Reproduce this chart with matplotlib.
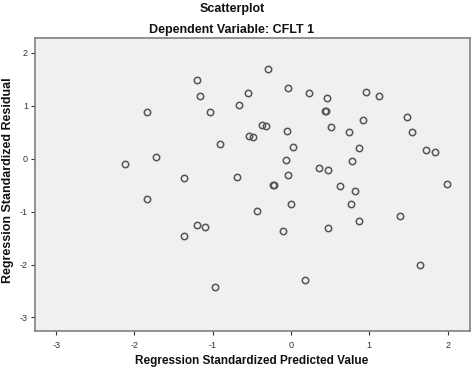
import matplotlib
matplotlib.use("Agg")
import matplotlib.pyplot as plt

# Regression standardized predicted value (x) and residual (y)
pred = [-1.835, -1.728, -2.124, -1.367, -0.290, -1.197, -1.158, -0.034, -0.553, 0.230,
        0.464, -0.664, -1.034, 0.433, 0.453, -0.370, -0.319, -0.047, -0.533, -0.489,
        -0.907, 0.026, -0.068, 0.361, 0.476, -0.686, -0.034, -0.236, -0.216, 0.962,
        1.120, 0.920, 1.485, 0.515, 0.741, 1.541, 0.872, 1.724, 1.839, 0.783,
        1.992, 0.626, -1.835, -1.367, 0.000, -0.438, -1.197, -1.102, -0.098, 0.476,
        0.179, -0.974, 0.814, 0.762, 1.392, 0.865, 1.648]
resid = [0.888, 0.032, -0.100, -0.371, 1.701, 1.482, 1.191, 1.336, 1.248, 1.242,
         1.153, 1.015, 0.877, 0.896, 0.896, 0.631, 0.618, 0.518, 0.423, 0.405,
         0.284, 0.221, -0.019, -0.170, -0.219, -0.340, -0.302, -0.497, -0.497, 1.255,
         1.191, 0.726, 0.788, 0.594, 0.510, 0.499, 0.197, 0.164, 0.121, -0.049,
         -0.478, -0.522, -0.756, -1.467, -0.862, -0.983, -1.248, -1.285, -1.372, -1.316,
         -2.293, -2.425, -0.611, -0.862, -1.083, -1.172, -2.004]

xticks = [-3, -2, -1, 0, 1, 2]
yticks = [-3, -2, -1, 0, 1, 2]

title1 = "Scatterplot"
title2 = "Dependent Variable: CFLT 1"
xlabel = "Regression Standardized Predicted Value"
ylabel = "Regression Standardized Residual"

plt.rcParams['font.family'] = ['Liberation Sans', 'DejaVu Sans']

fig = plt.figure(figsize=(4.74, 3.70), dpi=100)
fig.patch.set_facecolor('white')
ax = fig.add_axes([35/474, 1 - 331/370, (470 - 35)/474, (331 - 38)/370])
ax.set_facecolor('#f0f0f0')

ax.plot(pred, resid, linestyle='none', marker='o', markersize=4.6,
        markerfacecolor='none', markeredgecolor='#555555', markeredgewidth=1.1)

ax.set_xlim(-3.27, 2.286)
ax.set_ylim(-3.257, 2.282)
ax.set_xticks(xticks)
ax.set_yticks(yticks)
ax.set_xticklabels([str(t) for t in xticks])
ax.set_yticklabels([str(t) for t in yticks])
ax.tick_params(axis='both', labelsize=6.5, colors='#333333', length=3, width=0.8,
               direction='out', pad=2)
ax.tick_params(axis='x', pad=4)

for s in ax.spines.values():
    s.set_color('#808080')
    s.set_linewidth(1.2)

fig.text(252/474, 1 - 361/370, xlabel, ha='center', va='center',
         fontsize=8.5, fontweight='bold', color='#111111')
fig.text(8/474, 1 - 180/370, ylabel, ha='center', va='center', rotation=90,
         fontsize=9, fontweight='bold', color='#111111')

fig.text(232/474, 1 - 9/370, title1, ha='center', va='center',
         fontsize=9, fontweight='bold', color='#111111')
fig.text(232/474, 1 - 30/370, title2, ha='center', va='center',
         fontsize=9, fontweight='bold', color='#111111')

fig.savefig("out.png", dpi=100, facecolor='white')
